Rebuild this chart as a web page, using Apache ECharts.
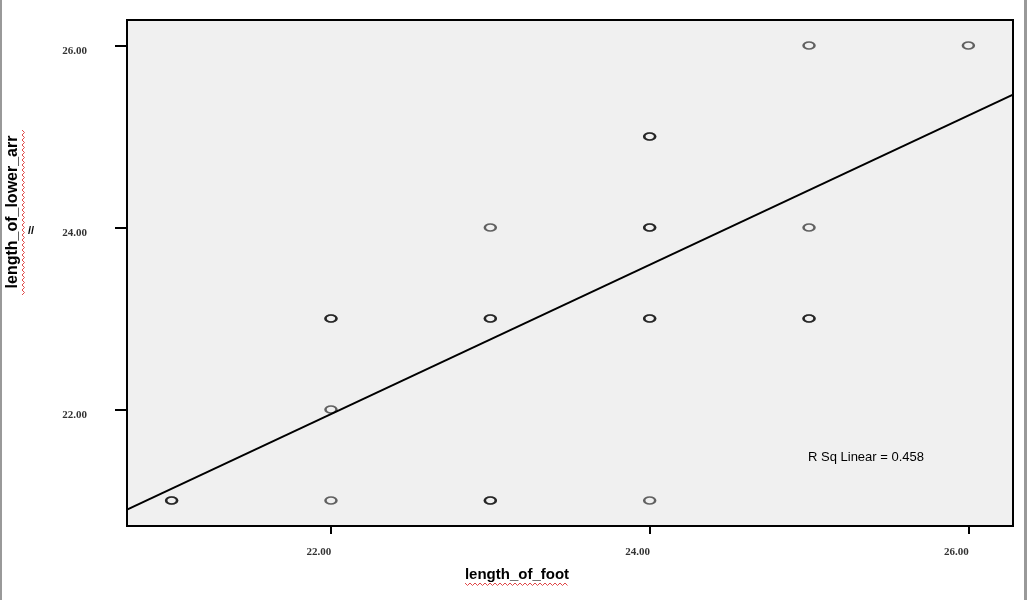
<!DOCTYPE html>
<html>
<head>
<meta charset="utf-8">
<script src="https://cdn.jsdelivr.net/npm/echarts@6/dist/echarts.min.js"></script>
<style>
html, body { margin: 0; padding: 0; background: #fff; }
#chart { width: 1027px; height: 600px; }
</style>
</head>
<body>
<div id="chart"></div>
<script>
// observed cases (length_of_foot, length_of_lower_arm); repeated pairs drawn twice
const footValues = [21, 21, 22, 22, 22, 22, 23, 23, 23, 23, 23, 24, 24, 24, 24, 24, 24, 24, 25, 25, 25, 25, 26]
const armValues  = [21, 21, 23, 23, 22, 21, 24, 23, 23, 21, 21, 25, 25, 24, 24, 23, 23, 21, 26, 24, 23, 23, 26]
// fit line, at the axis ends
const fitFoot = [20.72, 26.28]
const fitArm = [20.90, 25.46]
const tickValues = [22, 24, 26]
const rSquareText = 'R Sq Linear = 0.458'

const AXIS_MIN = 20.72
const AXIS_MAX = 26.28

let chart = echarts.init(document.getElementById('chart'))

function wavy(x0, y0, len, vertical){
  let pts = []
  for(let i = 0; i <= len; i += 2.5){
    let off = Math.round(i / 2.5) % 2 === 0 ? 0 : 2.5
    pts.push(vertical ? [x0 + off, y0 + i] : [x0 + i, y0 + off])
  }
  return pts
}

let scatterData = footValues.map((f, i) => [f, armValues[i]])
let fitData = fitFoot.map((f, i) => [f, fitArm[i]])

let tickLabel = {
  fontFamily: 'Liberation Serif, serif',
  fontSize: 11,
  fontWeight: 'bold',
  color: '#333',
  formatter: v => tickValues.indexOf(v) >= 0 ? v.toFixed(2) : ''
}

let chartOpt = {
  animation: false,
  grid: {
    left: 127, top: 20, right: 14, bottom: 74,
    show: true,
    backgroundColor: '#f0f0f0',
    borderColor: '#000',
    borderWidth: 2
  },
  xAxis: {
    type: 'value',
    min: AXIS_MIN,
    max: AXIS_MAX,
    axisLine: { show: true, onZero: false, lineStyle: { color: '#000', width: 2 } },
    axisTick: { show: true, customValues: tickValues, length: 8, lineStyle: { color: '#000', width: 2 } },
    axisLabel: Object.assign({ customValues: tickValues, margin: 21, padding: [0, 24, 0, 0] }, tickLabel),
    splitLine: { show: false }
  },
  yAxis: {
    type: 'value',
    min: AXIS_MIN,
    max: AXIS_MAX,
    axisLine: { show: true, onZero: false, lineStyle: { color: '#000', width: 2 } },
    axisTick: { show: true, customValues: tickValues, length: 12, lineStyle: { color: '#000', width: 2 } },
    axisLabel: Object.assign({ customValues: tickValues, margin: 40, verticalAlign: 'top' }, tickLabel),
    splitLine: { show: false }
  },
  graphic: [
    { type: 'rect', shape: { x: 0, y: 0, width: 2, height: 600 }, style: { fill: '#999' } },
    { type: 'rect', shape: { x: 1024, y: 0, width: 3, height: 600 }, style: { fill: '#999' } },
    {
      type: 'text', x: 517, y: 575,
      style: { text: 'length_of_foot', font: 'bold 15px Liberation Sans, Arial, sans-serif', fill: '#000', align: 'center', verticalAlign: 'middle' }
    },
    { type: 'polyline', shape: { points: wavy(465, 583, 104, false) }, style: { stroke: '#e04848', lineWidth: 1, fill: null } },
    {
      type: 'text', x: 13, y: 212, rotation: Math.PI / 2,
      style: { text: 'length_of_lower_arr', font: 'bold 16px Liberation Sans, Arial, sans-serif', fill: '#000', align: 'center', verticalAlign: 'middle' }
    },
    { type: 'polyline', shape: { points: wavy(22, 130, 165, true) }, style: { stroke: '#e04848', lineWidth: 1, fill: null } },
    {
      type: 'text', x: 31, y: 231,
      style: { text: '//', font: 'bold 11px Liberation Sans, Arial, sans-serif', fill: '#000', align: 'center', verticalAlign: 'middle' }
    },
    {
      type: 'text', x: 866, y: 457,
      style: { text: rSquareText, font: '13px Liberation Sans, Arial, sans-serif', fill: '#000', align: 'center', verticalAlign: 'middle' }
    }
  ],
  series: [
    {
      type: 'line',
      data: fitData,
      symbol: 'none',
      lineStyle: { color: '#000', width: 2 },
      z: 2
    },
    {
      type: 'scatter',
      data: scatterData,
      symbol: 'circle',
      symbolSize: [11, 7],
      itemStyle: { color: 'rgba(0,0,0,0)', borderColor: 'rgba(0,0,0,0.75)', borderWidth: 2 },
      z: 3
    }
  ]
}

chart.setOption(chartOpt)
</script>
</body>
</html>
